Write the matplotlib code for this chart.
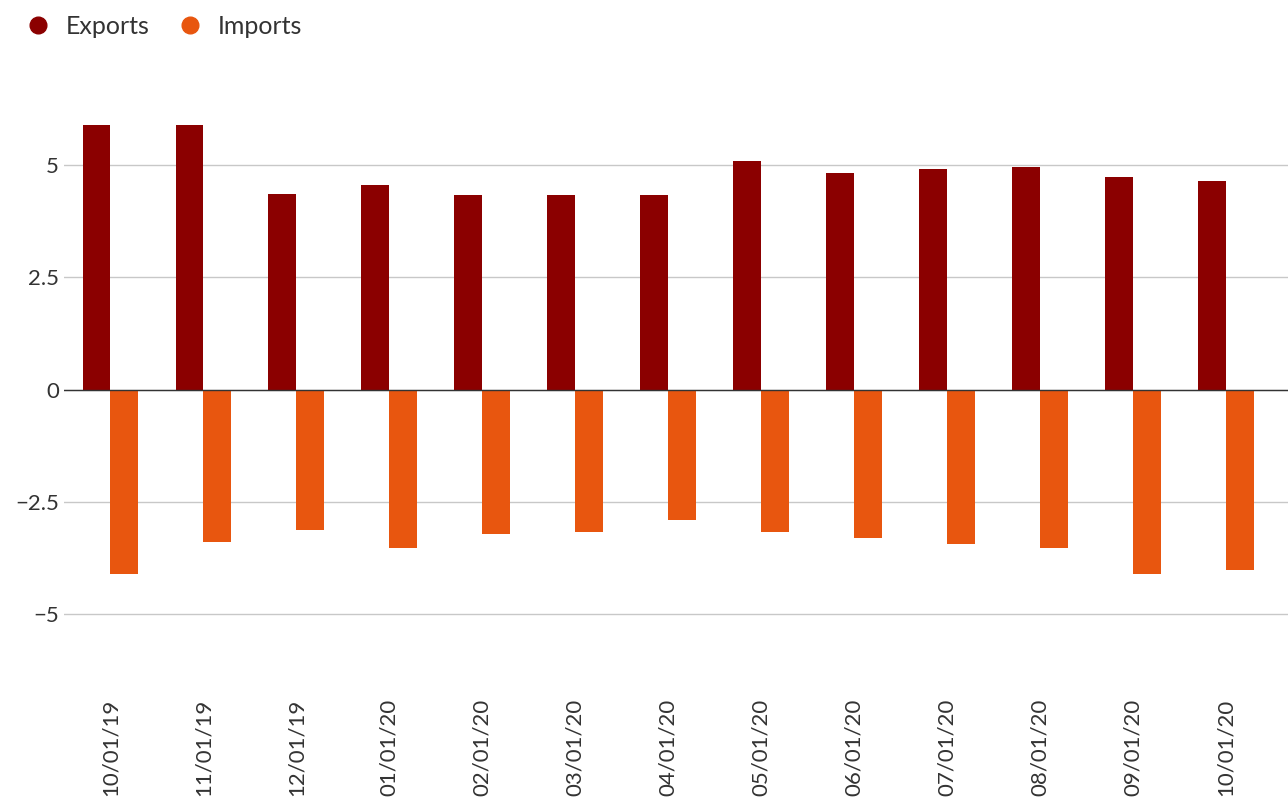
import matplotlib
matplotlib.use("Agg")
import matplotlib.pyplot as plt
import numpy as np
from matplotlib.lines import Line2D

categories = ["10/01/19","11/01/19","12/01/19","01/01/20","02/01/20","03/01/20","04/01/20",
              "05/01/20","06/01/20","07/01/20","08/01/20","09/01/20","10/01/20"]
exports = [5.89,5.89,4.37,4.55,4.33,4.33,4.33,5.09,4.82,4.91,4.96,4.73,4.64]
imports = [-4.11,-3.39,-3.12,-3.53,-3.21,-3.17,-2.90,-3.17,-3.30,-3.44,-3.53,-4.11,-4.02]

plt.rcParams["font.family"] = "Lato"
fig = plt.figure(figsize=(12.88, 8.0), dpi=100)
ax = fig.add_axes([64/1288, 150/800, 1224/1288, 570/800])
x = np.arange(len(categories))
w = 0.3
ax.bar(x - w/2, exports, w, color="#8b0000")
ax.bar(x + w/2, imports, w, color="#e8560f")
ax.set_xlim(-0.5, len(categories) - 0.5 + 0.17)
ax.set_ylim(-5.8, 6.9)
ax.set_yticks([5, 2.5, 0, -2.5, -5])
ax.set_yticklabels(["5", "2.5", "0", "\u22122.5", "\u22125"])
ax.yaxis.grid(True, color="#c8c8c8", linewidth=1)
ax.axhline(0, color="#333333", linewidth=1)
ax.set_axisbelow(True)
for s in ax.spines.values():
    s.set_visible(False)
ax.tick_params(length=0, labelsize=16, colors="#333333")
ax.set_xticks(x)
ax.set_xticklabels(categories, rotation=90, fontsize=16)
ax.tick_params(axis="x", pad=35)
handles = [Line2D([], [], marker="o", linestyle="", color="#8b0000", markersize=12),
           Line2D([], [], marker="o", linestyle="", color="#e8560f", markersize=12)]
fig.legend(handles, ["Exports", "Imports"], loc="upper left", bbox_to_anchor=(-0.007, 1.01),
           frameon=False, ncol=2, fontsize=18, handletextpad=0.1, columnspacing=0.6,
           labelcolor="#333333")
fig.savefig("out.png")
